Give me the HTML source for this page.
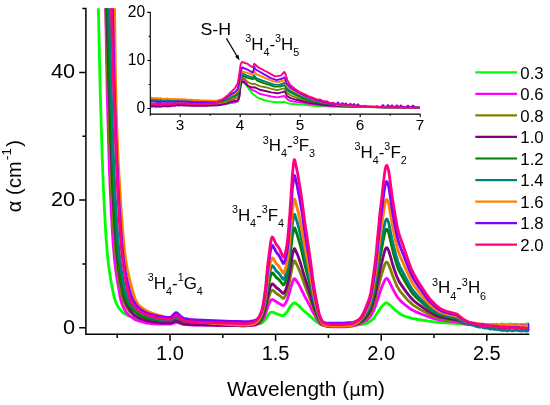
<!DOCTYPE html>
<html lang="en"><head><meta charset="utf-8"><title>Absorption spectra</title>
<style>html,body{margin:0;padding:0;background:#fff}svg{display:block}</style></head>
<body>
<svg width="550" height="405" viewBox="0 0 550 405" font-family="'Liberation Sans', sans-serif" fill="#000">
<rect width="550" height="405" fill="#fff"/>
<defs><clipPath id="cm"><rect x="86" y="8.2" width="445" height="326"/></clipPath><clipPath id="ci"><rect x="150.3" y="11" width="271" height="103"/></clipPath></defs>
<g clip-path="url(#cm)" fill="none" stroke-width="2.8" stroke-linejoin="round" stroke-linecap="butt">
<path d="M97.9,-12.0 L98.1,-4.0 L98.2,2.0 L98.4,8.2 L98.5,14.6 L98.7,21.2 L98.8,27.9 L99.0,34.8 L99.1,41.8 L99.3,48.8 L99.4,55.8 L99.6,62.7 L99.7,69.5 L99.9,76.1 L100.0,82.5 L100.2,88.7 L100.4,96.4 L100.6,103.5 L100.8,110.4 L101.0,117.2 L101.2,123.9 L101.4,130.5 L101.6,136.9 L101.8,143.2 L102.0,149.3 L102.2,156.7 L102.5,163.9 L102.7,170.7 L103.0,177.2 L103.2,183.5 L103.5,190.5 L103.8,197.0 L104.2,203.9 L104.5,210.6 L104.9,217.0 L105.2,223.2 L105.6,229.9 L106.0,236.2 L106.5,242.7 L107.0,249.3 L107.5,255.6 L108.2,261.8 L108.9,267.8 L109.8,273.8 L110.8,279.9 L111.9,285.9 L113.0,291.7 L114.2,297.6 L116.3,303.3 L119.2,308.6 L123.2,313.1 L128.6,315.9 L134.5,317.2 L140.5,318.4 L146.5,319.1 L152.5,319.7 L158.5,320.3 L164.5,320.6 L170.5,320.7 L176.2,320.0 L182.2,321.2 L188.2,321.9 L194.2,322.2 L200.2,322.4 L206.2,322.6 L212.2,322.9 L218.2,323.2 L224.2,323.5 L230.2,323.8 L236.2,324.2 L242.2,324.5 L248.2,324.7 L254.2,324.8 L260.2,323.7 L262.8,322.3 L264.8,320.5 L268.0,315.1 L269.8,313.1 L270.5,312.6 L271.8,312.2 L273.2,312.4 L279.0,314.6 L282.2,315.6 L283.2,315.6 L284.0,315.3 L287.2,311.7 L290.2,306.5 L292.8,303.7 L293.8,303.0 L294.2,302.8 L295.0,302.9 L299.0,305.9 L303.2,310.2 L308.0,314.3 L312.5,318.4 L317.2,322.4 L320.5,324.7 L322.0,325.1 L328.0,325.7 L334.0,325.8 L340.0,325.8 L346.0,325.6 L352.0,325.4 L358.0,324.9 L364.0,324.2 L366.8,323.5 L372.0,320.0 L374.8,316.8 L378.2,311.7 L381.8,306.4 L384.8,303.5 L385.8,303.0 L386.5,302.8 L387.2,303.0 L391.2,306.1 L395.5,310.4 L400.5,314.2 L406.0,316.7 L412.0,318.4 L418.0,319.5 L424.0,320.4 L430.0,321.3 L436.0,322.1 L442.0,322.7 L448.0,323.1 L454.0,323.4 L460.0,323.9 L466.6,324.4 L469.0,324.6 L469.8,324.4 L471.4,324.5 L472.2,324.6 L473.0,324.5 L474.6,324.6 L475.4,324.5 L477.8,324.7 L478.6,324.8 L480.2,324.9 L481.0,324.6 L481.8,324.5 L483.4,324.6 L485.0,324.4 L485.8,324.5 L487.4,324.8 L488.2,324.9 L489.8,324.9 L490.6,324.6 L491.4,324.6 L492.2,324.6 L493.0,324.4 L493.8,324.5 L494.6,324.9 L495.4,324.9 L496.2,325.1 L497.0,324.2 L497.8,324.6 L498.6,324.6 L499.4,325.2 L500.2,325.0 L501.8,323.9 L502.6,324.2 L503.4,324.3 L504.2,324.6 L505.0,324.5 L506.6,324.8 L507.4,324.7 L508.2,324.4 L509.0,324.5 L509.8,324.0 L510.6,324.5 L511.4,324.1 L512.2,324.6 L513.0,324.3 L515.4,324.4 L516.2,324.3 L517.0,324.4 L517.8,324.4 L518.6,324.8 L519.4,324.6 L520.2,324.6 L521.0,324.4 L521.8,324.6 L522.6,324.6 L523.4,324.5 L524.2,324.6 L525.0,324.5 L525.8,324.4 L526.6,324.2 L527.4,324.2 L528.2,323.9 L529.0,323.8" stroke="#00ff00"/>
<path d="M105.3,-12.0 L105.4,-4.5 L105.6,3.1 L105.7,10.8 L105.9,19.0 L106.0,27.4 L106.2,36.1 L106.3,44.9 L106.5,53.7 L106.6,62.4 L106.8,70.8 L106.9,78.9 L107.1,86.5 L107.2,93.6 L107.4,100.0 L107.6,107.9 L107.8,115.5 L108.0,123.0 L108.2,130.1 L108.4,137.1 L108.6,143.8 L108.8,150.3 L109.0,156.5 L109.2,162.5 L109.4,169.7 L109.7,176.5 L109.9,182.9 L110.2,189.0 L110.5,195.8 L110.8,202.0 L111.1,208.0 L111.4,214.8 L111.8,221.2 L112.1,227.3 L112.5,233.8 L112.9,239.9 L113.4,246.2 L113.9,252.5 L114.4,258.5 L115.1,264.5 L115.8,270.5 L116.7,276.8 L117.7,282.9 L118.8,289.0 L119.8,295.1 L121.0,301.0 L123.0,306.7 L126.0,312.0 L130.1,316.4 L135.2,319.6 L141.0,321.6 L147.0,323.2 L153.0,323.8 L159.0,324.1 L165.0,324.2 L171.0,324.0 L175.5,322.6 L177.8,322.7 L183.5,324.4 L189.5,324.9 L195.5,325.0 L201.5,325.1 L207.5,325.2 L213.5,325.3 L219.5,325.4 L225.5,325.5 L231.5,325.6 L237.5,325.7 L243.5,325.8 L249.5,325.7 L255.5,325.0 L258.8,323.5 L261.0,321.8 L262.5,320.1 L264.5,316.6 L266.2,311.8 L268.2,305.5 L270.2,301.2 L271.2,300.0 L271.8,299.6 L272.2,299.5 L273.0,299.7 L278.2,302.9 L282.5,305.5 L283.2,305.7 L283.8,305.5 L284.2,305.1 L286.0,302.5 L287.5,299.2 L289.2,293.5 L291.0,287.0 L292.5,281.8 L293.5,279.5 L294.0,278.8 L294.2,278.6 L294.5,278.6 L295.0,278.9 L298.5,283.9 L301.5,289.6 L304.2,295.4 L307.2,300.9 L310.2,306.6 L313.0,312.3 L316.2,317.9 L319.8,323.0 L321.5,324.7 L327.2,326.6 L333.2,326.9 L339.2,326.9 L345.2,326.8 L351.2,326.4 L357.2,324.8 L363.0,322.5 L367.0,320.0 L370.0,317.0 L372.2,313.4 L374.8,307.7 L376.8,302.0 L378.8,295.8 L380.8,289.8 L383.0,284.0 L385.0,279.8 L385.8,278.9 L386.2,278.6 L386.8,278.5 L387.2,278.7 L388.2,279.7 L391.2,285.6 L394.0,291.2 L397.2,296.8 L400.8,301.1 L405.5,305.2 L410.5,309.0 L416.0,311.9 L421.8,314.2 L427.5,316.4 L433.2,318.4 L439.2,319.9 L445.2,320.8 L451.2,321.4 L457.2,322.0 L463.2,323.4 L465.8,323.9 L469.8,324.3 L471.4,324.4 L473.0,324.7 L473.8,324.7 L474.6,324.5 L475.4,324.4 L476.2,324.5 L477.0,324.9 L477.8,325.1 L478.6,325.0 L479.4,325.2 L481.8,324.9 L482.6,325.0 L483.4,325.3 L484.2,324.9 L485.0,324.9 L485.8,324.9 L488.2,325.6 L489.0,325.9 L489.8,326.1 L490.6,325.8 L491.4,325.9 L492.2,325.7 L493.0,326.0 L494.6,325.3 L495.4,324.8 L497.0,325.1 L497.8,325.5 L498.6,325.7 L499.4,325.5 L500.2,325.2 L501.0,325.1 L502.6,325.8 L503.4,325.6 L504.2,325.3 L505.8,325.3 L506.6,325.7 L507.4,325.9 L509.0,325.9 L509.8,325.8 L511.4,326.2 L512.2,326.3 L513.0,326.3 L515.4,325.9 L516.2,325.8 L517.8,326.4 L518.6,326.7 L519.4,326.3 L520.2,326.1 L521.0,325.4 L521.8,325.5 L522.6,325.2 L523.4,325.7 L524.2,325.9 L525.0,326.1 L525.8,325.9 L526.6,325.9 L527.4,326.4 L528.2,326.5 L529.0,326.4" stroke="#ff00ff"/>
<path d="M105.4,-12.0 L105.5,-5.1 L105.7,1.7 L105.8,8.2 L106.0,14.4 L106.1,20.5 L106.3,26.5 L106.5,34.4 L106.7,42.1 L106.9,49.7 L107.1,57.2 L107.3,64.5 L107.5,71.6 L107.7,78.6 L107.9,85.4 L108.1,92.0 L108.3,98.4 L108.5,104.7 L108.7,111.0 L108.9,117.2 L109.1,123.4 L109.3,129.6 L109.5,135.6 L109.7,143.1 L110.0,150.3 L110.2,157.4 L110.5,164.3 L110.7,170.9 L111.0,177.2 L111.2,183.2 L111.5,190.0 L111.8,196.2 L112.2,202.7 L112.5,208.9 L112.9,215.7 L113.3,222.2 L113.7,228.2 L114.2,234.7 L114.6,240.7 L115.1,246.9 L115.7,253.1 L116.3,259.1 L117.0,265.3 L117.7,271.3 L118.6,277.5 L119.5,283.6 L120.6,289.7 L121.9,295.7 L123.7,301.5 L126.3,306.9 L129.9,311.8 L134.8,315.3 L140.5,317.7 L146.5,319.2 L152.5,320.2 L158.5,320.9 L164.5,321.3 L170.5,321.2 L175.5,319.3 L177.0,319.3 L182.8,321.7 L188.8,322.5 L194.8,322.8 L200.8,323.0 L206.8,323.3 L212.8,323.5 L218.8,323.8 L224.8,324.1 L230.8,324.3 L236.8,324.6 L242.8,324.8 L248.8,324.7 L254.8,324.1 L257.5,323.2 L260.0,321.4 L261.5,319.7 L262.8,317.6 L264.5,313.5 L266.2,307.2 L267.8,300.6 L269.8,294.1 L270.5,292.2 L271.5,290.7 L272.0,290.2 L272.2,290.2 L272.8,290.3 L274.5,291.7 L276.5,293.5 L279.5,295.5 L282.5,298.0 L283.0,298.3 L283.5,298.4 L283.8,298.3 L284.2,297.8 L286.0,294.6 L287.2,291.2 L288.5,286.3 L289.8,280.0 L291.0,273.4 L292.2,266.7 L293.2,263.0 L293.8,261.6 L294.0,261.2 L294.2,260.9 L294.5,260.9 L294.8,261.0 L295.2,261.6 L298.0,267.1 L300.5,273.1 L302.8,279.5 L304.8,285.3 L307.0,291.0 L309.2,296.8 L311.5,303.0 L313.5,308.9 L316.0,314.6 L318.8,320.3 L320.5,322.8 L322.2,324.3 L328.0,325.9 L334.0,326.0 L340.0,326.0 L346.0,325.9 L352.0,325.4 L358.0,323.8 L363.2,321.1 L367.8,317.0 L370.2,313.5 L372.2,309.0 L374.2,303.2 L376.0,297.2 L377.5,290.8 L379.0,284.6 L380.5,278.7 L382.2,272.5 L384.2,266.0 L385.0,264.0 L385.8,262.8 L386.2,262.3 L386.5,262.2 L386.8,262.1 L387.0,262.2 L387.5,262.7 L388.2,263.7 L390.5,269.5 L392.5,275.3 L394.8,281.0 L397.2,286.6 L400.0,291.2 L404.0,295.9 L408.2,300.6 L412.8,304.8 L418.0,308.2 L423.2,311.1 L428.8,314.1 L434.5,316.6 L440.2,318.4 L446.2,319.5 L452.2,320.2 L457.8,321.1 L463.5,323.0 L469.0,324.1 L472.2,324.4 L473.8,324.8 L477.0,325.3 L477.8,325.3 L478.6,325.1 L479.4,325.4 L480.2,325.0 L481.0,325.2 L481.8,325.1 L482.6,325.6 L483.4,325.7 L484.2,325.5 L485.8,325.3 L486.6,325.9 L488.2,326.4 L489.0,326.2 L489.8,326.1 L490.6,325.9 L491.4,326.2 L492.2,326.1 L493.0,326.3 L493.8,326.2 L494.6,326.0 L495.4,326.0 L496.2,325.8 L497.0,326.3 L497.8,326.7 L498.6,326.7 L499.4,326.1 L500.2,326.0 L501.8,326.4 L502.6,326.8 L504.2,326.8 L505.0,326.4 L505.8,326.5 L506.6,327.0 L507.4,327.1 L508.2,326.9 L509.0,326.5 L509.8,326.8 L510.6,326.7 L511.4,326.8 L512.2,326.7 L513.0,327.1 L513.8,327.1 L514.6,326.7 L515.4,326.7 L517.8,327.2 L518.6,327.2 L519.4,327.4 L520.2,327.2 L521.0,327.4 L521.8,327.1 L522.6,327.4 L523.4,327.5 L524.2,327.7 L525.0,327.2 L525.8,327.0 L526.6,326.3 L527.4,326.5 L528.2,326.5 L529.0,327.0" stroke="#808000"/>
<path d="M106.4,-12.0 L106.5,-5.0 L106.7,1.8 L106.8,8.2 L107.0,16.1 L107.2,23.8 L107.4,31.2 L107.6,38.5 L107.8,45.5 L108.0,52.4 L108.2,59.2 L108.4,65.8 L108.6,72.2 L108.8,78.6 L109.0,84.8 L109.2,91.0 L109.4,97.0 L109.7,104.5 L109.9,112.0 L110.2,119.4 L110.4,126.8 L110.7,134.2 L110.9,141.4 L111.2,148.5 L111.4,155.4 L111.7,162.2 L111.9,168.7 L112.2,175.0 L112.4,181.0 L112.7,187.8 L113.0,194.2 L113.4,200.9 L113.7,207.3 L114.1,213.4 L114.5,220.1 L114.9,226.6 L115.3,232.7 L115.7,239.1 L116.2,245.6 L116.8,252.1 L117.4,258.2 L118.1,264.2 L118.9,270.2 L119.8,276.2 L120.8,282.2 L122.0,288.2 L123.2,294.1 L124.8,299.9 L127.1,305.5 L130.3,310.6 L134.2,315.2 L139.3,318.4 L145.2,320.4 L151.2,321.6 L157.2,322.5 L163.2,323.0 L169.2,323.2 L171.8,322.8 L175.2,321.1 L176.2,321.0 L178.2,321.6 L183.2,323.9 L189.2,324.6 L195.2,324.8 L201.2,324.9 L207.2,325.0 L213.2,325.2 L219.2,325.3 L225.2,325.4 L231.2,325.6 L237.2,325.7 L243.2,325.8 L249.2,325.7 L255.0,324.5 L257.8,323.1 L260.0,320.9 L261.5,318.9 L262.8,316.4 L264.5,311.3 L266.0,305.2 L267.2,298.7 L268.8,292.2 L270.2,287.0 L270.8,285.7 L271.5,284.4 L272.0,283.9 L272.2,283.8 L272.8,283.9 L274.2,285.3 L276.2,287.5 L279.2,289.7 L282.5,292.9 L283.0,293.3 L283.5,293.4 L283.8,293.3 L284.2,292.8 L286.0,289.2 L287.2,285.2 L288.5,279.5 L289.8,272.1 L290.8,265.7 L291.8,259.1 L292.5,254.5 L293.5,250.4 L294.0,249.1 L294.2,248.7 L294.5,248.7 L294.8,248.8 L295.2,249.6 L297.8,255.4 L300.0,261.7 L302.0,268.1 L303.8,274.3 L305.8,280.7 L307.8,286.7 L309.8,293.0 L311.5,298.8 L313.2,305.1 L315.5,311.3 L317.8,317.0 L319.8,321.1 L321.2,323.2 L322.8,324.5 L328.0,326.0 L334.0,326.1 L340.0,326.1 L346.0,326.0 L352.0,325.4 L357.8,323.5 L363.0,320.2 L367.2,315.5 L369.8,311.6 L371.0,308.9 L373.0,302.7 L374.8,296.2 L376.2,289.7 L377.5,283.1 L378.8,276.6 L380.0,270.4 L381.5,263.9 L383.0,257.5 L384.5,251.6 L385.0,250.0 L385.8,248.5 L386.2,247.9 L386.5,247.8 L386.8,247.7 L387.0,247.8 L387.5,248.3 L388.2,249.6 L389.0,251.6 L390.8,257.7 L392.5,264.0 L394.5,270.1 L396.5,275.8 L399.0,281.4 L402.5,286.6 L406.0,291.6 L409.8,296.5 L414.0,301.0 L418.8,304.7 L423.8,308.2 L428.8,311.6 L434.2,314.6 L440.0,316.9 L446.0,318.2 L452.0,319.1 L457.5,320.0 L463.0,322.4 L466.6,323.5 L468.2,324.0 L469.0,324.0 L469.8,324.2 L470.6,324.2 L471.4,324.4 L472.2,324.5 L473.0,324.8 L473.8,324.9 L476.2,325.5 L477.0,325.6 L478.6,325.3 L479.4,325.4 L481.0,325.8 L481.8,325.8 L482.6,325.9 L483.4,326.2 L484.2,326.2 L485.0,325.9 L485.8,325.5 L486.6,325.6 L488.2,326.0 L489.0,326.3 L489.8,326.8 L490.6,327.0 L491.4,327.0 L492.2,326.7 L493.0,327.0 L493.8,327.0 L496.2,327.3 L497.8,327.3 L498.6,327.1 L500.2,327.3 L501.0,327.5 L501.8,327.3 L502.6,327.3 L503.4,327.0 L504.2,327.4 L505.8,327.4 L506.6,327.1 L507.4,327.2 L508.2,327.5 L509.0,327.4 L509.8,327.4 L510.6,327.3 L511.4,327.5 L512.2,327.3 L513.0,327.4 L513.8,327.6 L514.6,327.6 L515.4,328.2 L516.2,328.4 L517.0,328.4 L517.8,328.0 L518.6,327.9 L519.4,327.9 L520.2,327.8 L521.0,327.9 L521.8,327.7 L522.6,327.7 L523.4,327.6 L525.0,328.2 L525.8,327.7 L526.6,327.7 L527.4,327.6 L528.2,328.1 L529.0,327.9" stroke="#800080"/>
<path d="M107.0,-12.0 L107.1,-5.0 L107.3,1.8 L107.4,8.2 L107.6,16.1 L107.8,23.8 L108.0,31.2 L108.2,38.5 L108.4,45.5 L108.6,52.4 L108.8,59.2 L109.0,65.8 L109.2,72.2 L109.4,78.6 L109.6,84.8 L109.8,91.0 L110.0,97.0 L110.3,104.5 L110.5,112.0 L110.8,119.4 L111.0,126.8 L111.3,134.2 L111.5,141.4 L111.8,148.5 L112.0,155.4 L112.3,162.2 L112.5,168.7 L112.8,175.0 L113.0,181.0 L113.3,187.8 L113.6,194.2 L114.0,200.9 L114.3,207.3 L114.7,213.4 L115.1,220.1 L115.5,226.6 L115.9,232.7 L116.3,239.1 L116.8,245.6 L117.4,252.1 L118.0,258.2 L118.7,264.2 L119.5,270.3 L120.4,276.5 L121.4,282.4 L122.6,288.5 L124.0,294.4 L125.9,300.1 L129.0,305.3 L132.9,309.9 L137.5,313.8 L142.8,316.8 L148.8,318.5 L154.8,319.7 L160.8,320.5 L166.8,320.8 L170.5,320.6 L172.2,319.9 L175.0,318.1 L175.8,317.8 L177.0,317.9 L182.2,320.9 L188.2,322.1 L194.2,322.4 L200.2,322.6 L206.2,322.9 L212.2,323.1 L218.2,323.3 L224.2,323.7 L230.2,324.0 L236.2,324.3 L242.2,324.5 L248.2,324.4 L254.2,323.5 L257.2,322.1 L259.0,320.6 L260.8,318.3 L262.0,315.9 L263.5,311.5 L265.0,305.4 L266.2,298.5 L267.2,291.9 L268.5,284.9 L270.0,278.1 L270.5,276.1 L271.5,273.7 L272.0,272.9 L272.2,272.8 L272.5,272.8 L273.0,273.2 L274.5,275.0 L276.2,277.4 L279.0,279.7 L282.8,284.5 L283.2,284.8 L283.5,284.8 L283.8,284.8 L284.0,284.6 L284.5,283.8 L286.0,280.0 L287.0,276.1 L288.0,271.0 L289.0,264.3 L290.0,256.5 L290.8,250.2 L291.5,243.8 L292.2,237.3 L292.8,233.9 L293.8,229.1 L294.0,228.3 L294.2,227.8 L294.5,227.8 L294.8,228.0 L295.2,228.9 L297.2,234.8 L299.2,241.4 L301.0,248.1 L302.5,254.5 L304.0,261.3 L305.5,267.5 L307.2,274.2 L308.8,280.1 L310.2,286.3 L311.8,292.8 L313.2,299.6 L315.0,305.9 L317.0,312.3 L318.5,317.0 L320.2,320.7 L322.0,323.0 L323.0,323.9 L326.8,325.0 L332.8,325.3 L338.8,325.3 L344.8,325.2 L350.8,324.8 L356.8,323.2 L360.0,321.4 L363.0,318.8 L366.8,313.6 L369.2,309.3 L370.5,306.4 L372.2,300.3 L373.8,293.9 L375.2,286.8 L376.5,279.8 L377.5,273.1 L378.5,266.7 L379.5,260.4 L380.8,253.4 L382.0,246.9 L383.2,240.3 L384.5,234.1 L385.0,232.0 L385.8,230.2 L386.2,229.4 L386.5,229.2 L386.8,229.2 L387.0,229.3 L387.5,229.9 L388.2,231.4 L388.8,233.0 L390.2,239.3 L391.8,246.2 L393.2,252.3 L395.0,258.6 L396.8,264.7 L399.0,270.7 L402.0,276.2 L405.2,281.8 L408.5,287.3 L412.0,292.7 L416.2,297.4 L420.8,301.5 L425.2,305.5 L430.0,309.4 L435.2,312.7 L440.8,315.2 L446.8,316.8 L452.8,317.8 L457.2,318.6 L462.8,321.5 L465.8,322.6 L468.2,323.4 L471.4,324.2 L473.0,324.3 L474.6,324.7 L476.2,324.7 L477.0,324.8 L477.8,325.1 L479.4,325.3 L480.2,325.3 L482.6,326.2 L484.2,326.0 L485.0,325.6 L485.8,325.9 L486.6,325.7 L487.4,326.0 L488.2,325.7 L489.0,325.7 L489.8,326.0 L490.6,326.1 L492.2,326.6 L493.0,326.8 L493.8,326.7 L495.4,326.4 L496.2,326.7 L497.0,326.6 L500.2,327.3 L501.8,326.9 L502.6,326.9 L503.4,327.0 L504.2,327.4 L505.0,327.5 L505.8,327.2 L506.6,327.2 L507.4,327.0 L508.2,327.2 L509.0,327.0 L509.8,327.0 L511.4,327.2 L513.8,327.9 L514.6,327.8 L516.2,327.5 L517.0,327.4 L517.8,327.1 L518.6,327.2 L519.4,327.6 L520.2,327.7 L521.0,327.8 L521.8,327.5 L522.6,327.6 L524.2,327.6 L525.0,327.7 L525.8,327.7 L526.6,327.9 L527.4,327.8 L529.0,327.8" stroke="#008000"/>
<path d="M108.8,-12.0 L108.9,-5.1 L109.1,1.7 L109.2,8.2 L109.4,14.5 L109.5,20.8 L109.7,27.0 L109.8,33.2 L110.0,39.3 L110.1,45.4 L110.3,53.3 L110.5,61.1 L110.7,68.7 L110.9,76.1 L111.1,83.3 L111.3,90.2 L111.5,96.8 L111.7,103.2 L111.9,109.4 L112.1,115.6 L112.3,121.8 L112.5,127.9 L112.8,135.3 L113.0,142.6 L113.3,149.7 L113.5,156.6 L113.8,163.3 L114.0,169.7 L114.3,175.8 L114.6,182.8 L114.9,189.3 L115.2,195.4 L115.5,201.8 L115.9,207.8 L116.3,214.4 L116.7,220.8 L117.1,226.8 L117.5,233.1 L118.0,239.7 L118.5,245.7 L119.1,251.7 L119.7,257.9 L120.5,263.9 L121.3,270.0 L122.3,276.0 L123.4,282.1 L124.6,288.1 L126.1,293.9 L128.0,299.6 L131.3,304.7 L135.6,308.9 L140.5,312.6 L146.0,315.3 L151.8,317.5 L157.8,319.0 L163.8,319.9 L169.8,320.2 L171.5,319.8 L175.0,317.4 L175.8,317.1 L176.8,317.2 L182.0,320.3 L188.0,321.6 L194.0,322.0 L200.0,322.3 L206.0,322.6 L212.0,322.9 L218.0,323.2 L224.0,323.5 L230.0,323.9 L236.0,324.2 L242.0,324.5 L248.0,324.4 L254.0,323.4 L257.0,321.9 L258.8,320.3 L260.8,317.3 L262.0,314.7 L263.2,310.7 L264.8,304.1 L266.0,296.6 L267.0,289.3 L268.0,282.5 L269.2,275.7 L270.5,269.6 L271.5,266.8 L272.0,265.9 L272.2,265.7 L272.5,265.8 L273.0,266.2 L274.5,268.2 L276.2,270.9 L279.0,273.5 L282.5,278.6 L283.0,279.1 L283.2,279.3 L283.5,279.3 L283.8,279.3 L284.0,279.1 L284.5,278.2 L286.0,274.0 L287.0,269.7 L288.0,264.0 L289.0,256.3 L289.8,249.8 L290.5,242.6 L291.2,235.4 L292.0,227.7 L292.8,221.3 L293.8,215.8 L294.0,214.9 L294.2,214.4 L294.5,214.3 L294.8,214.6 L295.2,215.7 L297.0,221.5 L298.8,227.8 L300.2,234.0 L301.8,240.8 L303.0,247.2 L304.2,253.7 L305.8,260.6 L307.2,267.1 L308.8,273.9 L310.2,280.9 L311.5,287.1 L312.8,293.7 L314.2,300.4 L316.0,306.9 L317.8,313.4 L319.5,318.3 L320.8,320.8 L322.5,323.1 L323.2,323.7 L326.8,324.7 L332.8,324.9 L338.8,324.9 L344.8,324.9 L350.8,324.4 L356.0,323.1 L359.2,321.5 L362.5,318.6 L366.0,313.5 L369.0,308.1 L370.5,304.4 L372.2,297.6 L373.8,290.6 L375.0,284.2 L376.2,276.8 L377.2,269.5 L378.2,262.3 L379.2,255.3 L380.2,248.8 L381.5,241.7 L382.8,234.3 L384.0,227.3 L385.0,222.2 L385.8,220.2 L386.2,219.3 L386.5,219.1 L386.8,219.0 L387.0,219.1 L387.5,219.8 L388.2,221.5 L388.8,223.2 L390.2,230.2 L391.5,236.6 L393.0,243.5 L394.5,249.6 L396.0,255.5 L397.8,261.4 L399.8,266.6 L402.8,272.2 L405.8,278.0 L408.8,283.6 L412.0,289.1 L415.8,293.8 L420.0,298.2 L424.5,302.7 L429.0,306.9 L434.0,310.6 L439.2,313.6 L445.0,315.6 L451.0,316.7 L457.0,318.0 L462.2,321.3 L465.0,322.7 L469.8,324.5 L471.4,325.0 L472.2,325.0 L473.0,325.2 L473.8,325.3 L476.2,326.4 L477.0,326.7 L477.8,326.7 L478.6,327.0 L479.4,326.9 L480.2,327.1 L481.0,326.8 L482.6,327.2 L483.4,327.7 L485.0,328.1 L485.8,328.1 L486.6,328.2 L487.4,328.1 L488.2,328.3 L489.8,329.0 L490.6,329.0 L492.2,328.7 L494.6,329.5 L495.4,329.3 L496.2,329.4 L497.0,329.3 L498.6,329.5 L499.4,329.7 L500.2,330.1 L501.8,330.3 L504.2,330.3 L505.0,330.1 L506.6,330.5 L507.4,330.9 L509.0,330.2 L509.8,330.1 L510.6,330.5 L512.2,330.9 L513.0,330.6 L513.8,330.7 L514.6,330.2 L515.4,330.2 L516.2,329.9 L517.0,330.4 L517.8,330.5 L518.6,330.7 L520.2,330.8 L521.0,331.0 L521.8,330.7 L522.6,331.0 L523.4,330.7 L524.2,330.7 L525.0,330.5 L525.8,331.0 L526.6,330.9 L527.4,331.0 L528.2,331.0 L529.0,331.3" stroke="#008080"/>
<path d="M114.2,-12.0 L114.3,-3.4 L114.5,5.3 L114.6,14.3 L114.7,20.7 L114.8,27.4 L114.9,34.2 L115.0,41.2 L115.1,48.2 L115.2,55.1 L115.3,61.9 L115.4,68.6 L115.5,74.9 L115.6,80.9 L115.8,89.1 L115.9,96.1 L116.1,103.5 L116.3,110.2 L116.5,116.6 L116.7,122.8 L117.0,130.0 L117.2,136.8 L117.5,143.2 L117.7,149.2 L118.0,156.0 L118.3,162.4 L118.7,169.3 L119.0,175.7 L119.4,181.8 L119.8,188.3 L120.2,194.6 L120.6,200.8 L121.0,207.5 L121.5,214.0 L121.9,220.2 L122.4,226.8 L122.9,233.0 L123.5,239.4 L124.1,245.8 L124.7,251.9 L125.5,257.9 L126.4,264.1 L127.5,270.1 L128.8,276.0 L130.2,281.9 L131.8,287.8 L133.4,293.7 L135.3,299.5 L138.4,304.7 L143.0,308.6 L148.5,311.7 L154.2,313.8 L160.2,315.5 L166.2,317.2 L169.8,317.7 L171.2,317.4 L173.0,316.4 L175.0,314.9 L175.8,314.6 L176.8,314.8 L178.5,315.8 L182.2,318.7 L188.2,320.4 L194.2,321.2 L200.2,322.0 L206.2,322.7 L212.2,323.3 L218.2,323.7 L224.2,324.2 L230.2,324.6 L236.2,324.9 L242.2,325.2 L248.2,325.1 L253.0,324.1 L255.8,322.7 L257.8,321.1 L259.2,319.2 L261.0,315.9 L262.2,312.6 L263.8,306.5 L265.0,299.7 L266.0,292.8 L266.8,286.8 L267.5,280.5 L268.5,273.7 L269.5,267.7 L270.5,262.2 L271.5,259.0 L272.0,257.9 L272.2,257.8 L272.5,257.8 L273.0,258.2 L274.5,260.6 L276.2,263.5 L278.8,266.1 L282.0,271.4 L282.8,272.6 L283.2,273.1 L283.5,273.1 L283.8,273.1 L284.0,272.9 L284.5,272.0 L286.0,267.3 L287.0,262.4 L288.0,256.0 L288.8,249.6 L289.5,242.5 L290.2,234.5 L291.0,226.2 L291.8,217.4 L292.5,209.3 L293.5,202.2 L294.0,199.8 L294.2,199.2 L294.5,199.1 L294.8,199.4 L295.2,200.7 L297.0,207.3 L298.5,213.4 L300.0,220.3 L301.2,226.5 L302.5,233.5 L303.5,239.5 L304.8,246.6 L306.0,252.9 L307.2,259.1 L308.5,265.6 L309.8,272.2 L311.0,279.0 L312.2,286.4 L313.5,293.5 L315.0,300.3 L316.5,306.4 L318.0,312.7 L319.8,318.2 L321.0,321.0 L322.5,323.4 L323.2,324.2 L326.5,325.7 L332.5,326.2 L338.5,326.2 L344.5,326.1 L350.5,325.6 L354.5,324.2 L358.8,321.5 L362.8,316.9 L365.8,311.6 L368.5,306.0 L370.2,301.3 L371.5,296.3 L372.8,289.8 L374.0,282.8 L375.0,276.7 L376.0,269.9 L376.8,263.8 L377.5,257.2 L378.2,250.8 L379.0,244.5 L379.8,238.6 L380.8,231.5 L381.8,224.8 L382.8,217.7 L383.8,211.0 L384.8,204.5 L385.2,202.3 L386.0,200.3 L386.2,199.9 L386.5,199.6 L386.8,199.5 L387.0,199.6 L387.2,199.9 L388.2,202.4 L388.8,204.4 L390.0,211.3 L391.2,218.8 L392.5,225.9 L393.8,232.1 L395.2,239.1 L396.8,245.9 L398.5,252.1 L400.8,257.9 L403.5,263.9 L406.0,269.6 L408.5,275.2 L411.2,280.9 L414.5,286.2 L418.2,291.1 L422.2,295.9 L426.2,300.6 L430.5,305.1 L435.2,308.9 L440.5,312.2 L446.2,314.2 L452.2,315.4 L457.2,316.4 L462.5,319.8 L465.0,320.9 L468.2,322.0 L471.4,322.7 L473.8,322.9 L474.6,323.0 L476.2,323.6 L477.0,323.7 L477.8,323.6 L478.6,323.6 L479.4,323.8 L480.2,324.3 L481.0,324.2 L481.8,324.0 L482.6,324.1 L483.4,324.2 L484.2,324.7 L485.0,324.8 L485.8,325.0 L486.6,324.8 L487.4,324.5 L489.0,324.4 L489.8,324.8 L490.6,324.7 L491.4,324.9 L492.2,324.7 L493.8,324.9 L494.6,325.3 L495.4,325.1 L496.2,325.0 L497.0,324.8 L497.8,325.1 L499.4,325.1 L500.2,325.0 L501.0,325.1 L501.8,325.4 L502.6,325.2 L503.4,325.4 L504.2,325.0 L505.0,325.2 L505.8,324.8 L506.6,325.2 L507.4,325.3 L508.2,325.6 L509.0,325.2 L510.6,325.3 L511.4,325.7 L513.0,325.5 L514.6,326.2 L515.4,326.4 L516.2,326.0 L517.0,325.9 L517.8,325.6 L518.6,325.7 L519.4,325.6 L520.2,325.6 L521.0,325.9 L521.8,325.9 L522.6,326.1 L523.4,325.9 L524.2,326.0 L525.8,326.1 L526.6,326.5 L527.4,326.8 L528.2,326.9 L529.0,326.6" stroke="#ff8000"/>
<path d="M112.1,-12.0 L112.2,-5.2 L112.4,1.5 L112.5,8.2 L112.7,15.0 L112.8,21.9 L113.0,29.0 L113.1,36.1 L113.3,43.2 L113.4,50.4 L113.6,57.4 L113.7,64.3 L113.9,71.0 L114.0,77.5 L114.2,83.7 L114.4,91.4 L114.6,98.4 L114.8,104.7 L115.0,110.9 L115.2,116.9 L115.4,124.2 L115.7,131.2 L115.9,137.9 L116.2,144.5 L116.4,150.8 L116.7,156.8 L117.0,163.8 L117.3,170.4 L117.6,176.8 L117.9,182.8 L118.2,189.5 L118.6,195.8 L119.0,202.5 L119.4,209.0 L119.8,215.2 L120.2,221.3 L120.6,227.7 L121.1,233.9 L121.6,240.2 L122.1,246.6 L122.7,252.8 L123.4,258.9 L124.3,264.9 L125.2,270.8 L126.3,276.8 L127.6,282.9 L129.1,288.7 L130.7,294.6 L132.9,300.2 L136.2,305.3 L140.5,309.5 L145.8,312.6 L151.5,314.7 L157.5,316.2 L163.5,317.2 L169.2,317.5 L170.8,317.1 L172.0,316.3 L175.0,313.1 L175.8,312.7 L176.2,312.6 L177.2,313.0 L181.8,317.3 L183.8,318.5 L189.8,319.5 L195.8,319.8 L201.8,320.1 L207.8,320.3 L213.8,320.6 L219.8,320.8 L225.8,321.1 L231.8,321.3 L237.8,321.5 L243.8,321.7 L249.8,321.5 L254.5,320.6 L257.2,319.1 L258.8,317.6 L260.5,314.6 L261.8,311.5 L262.8,307.9 L264.0,301.5 L265.0,295.0 L265.8,289.0 L266.5,282.4 L267.2,274.8 L268.0,268.2 L269.0,260.8 L270.0,253.8 L270.5,250.7 L271.5,246.8 L272.0,245.6 L272.2,245.4 L272.5,245.4 L273.0,245.9 L274.2,248.1 L276.0,251.7 L276.8,252.8 L278.5,254.7 L281.5,260.2 L282.8,262.8 L283.2,263.4 L283.5,263.5 L283.8,263.4 L284.0,263.2 L284.5,262.2 L286.0,256.8 L286.8,252.8 L287.8,245.6 L288.5,238.7 L289.2,230.6 L289.8,224.6 L290.2,218.0 L290.8,211.4 L291.2,204.8 L291.8,197.6 L292.2,190.7 L292.8,185.2 L293.5,179.3 L294.0,176.4 L294.2,175.6 L294.5,175.5 L294.8,175.9 L295.2,177.4 L296.8,184.1 L298.2,191.2 L299.5,197.8 L300.8,204.9 L301.8,211.0 L302.8,217.9 L303.8,225.1 L304.8,231.8 L305.8,237.9 L307.0,245.2 L308.0,251.3 L309.0,257.5 L310.0,263.8 L311.0,270.3 L312.0,277.3 L313.0,284.4 L314.0,290.5 L315.2,296.9 L316.5,302.9 L317.8,309.2 L319.2,314.8 L320.5,318.2 L322.2,321.2 L323.0,322.0 L325.0,322.8 L331.0,323.1 L337.0,323.1 L343.0,323.1 L349.0,322.7 L353.5,322.4 L358.2,320.3 L360.8,318.2 L362.5,316.0 L365.2,310.7 L367.8,305.0 L369.8,299.6 L370.8,295.8 L372.0,289.3 L373.0,283.1 L374.0,276.7 L375.0,269.8 L376.0,262.1 L376.8,255.2 L377.5,247.6 L378.2,240.3 L379.0,233.1 L379.8,226.3 L380.5,220.3 L381.5,212.7 L382.5,204.7 L383.2,198.6 L384.2,191.1 L385.0,185.9 L385.8,183.3 L386.2,182.1 L386.5,181.7 L386.8,181.6 L387.0,181.8 L387.2,182.1 L388.2,184.9 L388.8,187.1 L389.8,193.6 L390.8,200.2 L391.8,207.1 L392.8,213.3 L394.0,220.2 L395.2,226.8 L396.5,233.4 L398.0,239.8 L399.8,245.6 L402.2,251.7 L404.5,257.5 L406.8,263.4 L409.0,269.1 L411.5,275.0 L414.5,280.5 L418.0,285.8 L421.8,291.0 L425.5,296.1 L429.2,300.9 L433.5,305.1 L438.2,309.0 L443.8,311.9 L449.8,313.5 L455.8,314.8 L457.2,315.3 L462.0,319.0 L465.0,320.7 L468.2,322.1 L471.4,323.2 L473.0,323.6 L475.4,323.9 L476.2,324.1 L477.8,324.8 L478.6,324.9 L479.4,324.8 L480.2,324.5 L481.0,324.7 L482.6,324.6 L483.4,324.7 L484.2,325.2 L485.0,325.2 L485.8,325.4 L486.6,325.4 L487.4,325.9 L488.2,326.1 L489.0,326.1 L491.4,326.0 L492.2,326.1 L493.0,325.8 L493.8,326.3 L494.6,326.4 L495.4,326.6 L497.0,326.3 L498.6,326.9 L501.8,327.1 L502.6,327.3 L503.4,327.0 L505.0,327.0 L505.8,327.4 L507.4,327.2 L508.2,327.3 L509.0,327.6 L511.4,327.3 L512.2,327.7 L513.0,327.5 L513.8,327.5 L514.6,327.3 L516.2,327.7 L517.0,327.5 L517.8,327.7 L519.4,327.7 L520.2,328.2 L521.8,328.5 L522.6,328.1 L523.4,327.8 L524.2,328.2 L525.0,328.3 L525.8,328.6 L527.4,328.6 L528.2,328.9 L529.0,328.7" stroke="#8000ff"/>
<path d="M111.0,-12.0 L111.1,-5.0 L111.3,1.8 L111.4,8.2 L111.6,16.1 L111.8,23.8 L112.0,31.3 L112.2,38.7 L112.4,45.8 L112.6,52.8 L112.8,59.6 L113.0,66.2 L113.2,72.7 L113.4,79.0 L113.6,85.2 L113.8,91.2 L114.1,98.6 L114.3,105.7 L114.6,112.8 L114.8,119.8 L115.1,126.7 L115.3,133.5 L115.6,140.2 L115.8,146.8 L116.1,153.2 L116.3,159.4 L116.6,165.4 L116.9,172.4 L117.2,179.2 L117.5,185.6 L117.8,191.6 L118.1,198.2 L118.5,204.4 L118.8,210.4 L119.2,217.1 L119.6,223.5 L120.0,229.7 L120.5,236.2 L120.9,242.3 L121.4,248.5 L122.0,254.5 L122.7,260.8 L123.5,266.9 L124.4,272.9 L125.4,279.0 L126.6,285.1 L128.0,291.1 L129.4,297.0 L131.8,302.6 L135.3,307.5 L139.8,311.5 L145.2,314.2 L151.0,316.4 L157.0,318.0 L163.0,318.9 L169.0,319.4 L170.8,319.2 L172.2,318.4 L175.0,316.0 L175.8,315.7 L176.5,315.8 L177.8,316.3 L182.2,319.9 L185.2,321.1 L191.2,321.7 L197.2,322.1 L203.2,322.4 L209.2,322.6 L215.2,322.8 L221.2,323.0 L227.2,323.2 L233.2,323.4 L239.2,323.6 L245.2,323.8 L251.2,323.1 L254.5,321.8 L257.2,319.6 L258.8,317.6 L260.5,314.0 L261.8,310.4 L262.8,306.3 L264.0,299.1 L265.0,291.9 L265.8,285.3 L266.5,277.9 L267.2,269.6 L268.0,262.3 L268.8,256.1 L269.8,248.4 L270.5,243.0 L271.5,238.6 L271.8,237.8 L272.0,237.3 L272.2,237.0 L272.5,237.1 L272.8,237.3 L274.2,240.0 L276.0,244.0 L276.8,245.2 L278.5,247.2 L279.5,248.9 L282.0,254.6 L282.8,256.2 L283.2,256.8 L283.5,257.0 L283.8,257.0 L284.0,256.7 L284.5,255.6 L286.0,249.8 L286.8,245.4 L287.8,237.5 L288.5,229.9 L289.2,220.9 L289.8,214.2 L290.2,207.0 L290.8,199.6 L291.2,192.2 L291.8,184.2 L292.2,176.5 L292.8,170.5 L293.5,163.8 L294.0,160.6 L294.2,159.7 L294.5,159.6 L294.8,160.0 L295.2,161.7 L296.5,168.0 L297.8,174.2 L299.0,181.2 L300.0,187.3 L301.0,193.7 L302.0,200.7 L303.0,208.4 L304.0,216.3 L305.0,223.6 L306.0,230.2 L307.0,236.7 L308.0,243.4 L309.0,250.3 L310.0,257.3 L311.0,264.5 L312.0,272.3 L313.0,280.1 L314.0,286.8 L315.2,293.9 L316.5,300.5 L317.8,307.5 L319.2,313.9 L320.5,317.8 L322.2,321.5 L323.0,322.6 L325.0,323.8 L331.0,324.6 L337.0,324.6 L343.0,324.6 L349.0,324.2 L353.0,323.5 L358.2,320.3 L360.8,317.5 L363.0,314.0 L365.5,308.3 L367.8,302.6 L369.8,296.6 L370.8,292.5 L372.0,285.1 L373.0,278.3 L374.0,271.2 L375.0,263.6 L375.8,257.3 L376.5,250.0 L377.2,241.7 L378.0,233.4 L378.8,225.4 L379.5,217.7 L380.2,210.7 L381.0,204.3 L381.8,197.9 L382.5,191.2 L383.2,184.4 L384.0,178.1 L384.8,171.9 L385.2,169.0 L386.0,166.5 L386.2,165.9 L386.5,165.5 L386.8,165.4 L387.0,165.5 L387.2,166.0 L388.2,169.0 L388.8,171.5 L389.8,178.7 L390.8,186.1 L391.8,193.8 L392.8,200.6 L393.8,206.8 L395.0,214.2 L396.0,220.1 L397.2,226.7 L398.8,233.1 L400.8,239.3 L403.0,245.3 L405.0,251.1 L407.0,256.9 L409.0,262.6 L411.2,268.6 L414.0,274.5 L417.0,279.7 L420.2,284.8 L423.8,290.2 L427.2,295.4 L431.0,300.3 L435.2,304.6 L440.0,308.4 L445.5,311.0 L451.5,312.7 L457.0,314.0 L461.8,318.1 L465.0,320.2 L467.4,321.5 L468.2,321.8 L472.2,323.0 L473.8,323.6 L474.6,323.7 L475.4,323.8 L476.2,323.8 L477.0,324.2 L477.8,324.3 L479.4,325.0 L480.2,325.0 L481.0,325.4 L482.6,325.8 L483.4,325.8 L485.0,325.5 L485.8,325.6 L486.6,325.5 L487.4,325.7 L488.2,325.5 L489.0,326.1 L489.8,326.3 L490.6,326.7 L492.2,326.3 L493.0,326.4 L493.8,326.3 L494.6,326.6 L495.4,326.8 L496.2,326.9 L497.8,326.7 L498.6,326.9 L499.4,327.1 L500.2,327.2 L501.0,327.5 L502.6,327.6 L503.4,327.4 L504.2,327.3 L505.8,327.4 L506.6,327.3 L508.2,327.4 L509.0,327.9 L510.6,328.0 L511.4,327.7 L513.0,327.7 L513.8,327.9 L515.4,328.2 L516.2,328.1 L517.0,327.7 L517.8,327.8 L518.6,327.7 L519.4,328.1 L520.2,328.2 L521.0,328.3 L522.6,328.0 L524.2,328.3 L525.0,328.2 L525.8,328.4 L526.6,328.3 L527.4,328.4 L529.0,328.6" stroke="#ff0080"/>
<path d="M528.6,323 V330.2" stroke="#8000ff" stroke-width="1.2"/>
</g>
<g clip-path="url(#ci)" fill="none" stroke-width="1.9" stroke-linejoin="round">
<path d="M149.8,104.3 L150.2,104.4 L150.6,104.2 L151.0,104.4 L151.4,104.3 L151.8,104.2 L152.2,104.2 L152.6,104.2 L153.0,104.7 L153.8,104.8 L154.2,104.5 L155.0,104.3 L155.4,104.3 L156.6,104.7 L157.0,104.6 L158.2,104.8 L158.6,104.7 L159.0,104.6 L159.4,104.6 L159.8,104.8 L161.4,104.6 L162.2,104.6 L162.6,104.7 L163.4,104.7 L163.8,104.4 L164.2,104.5 L164.6,104.3 L165.0,104.4 L165.4,104.4 L166.2,104.6 L167.0,104.4 L167.4,104.5 L167.8,104.7 L168.6,104.7 L170.2,104.4 L171.0,104.5 L171.4,104.3 L171.8,104.3 L172.2,104.1 L172.6,104.2 L173.4,104.2 L174.2,104.0 L174.6,104.2 L175.0,104.0 L175.8,104.0 L176.2,104.2 L177.4,103.9 L178.2,104.1 L178.6,104.0 L179.0,104.1 L179.4,103.9 L179.8,104.0 L180.6,104.1 L181.0,103.9 L182.2,104.2 L183.4,104.1 L184.2,104.0 L184.6,104.1 L185.4,104.1 L185.8,104.1 L186.6,104.2 L187.8,104.1 L188.6,104.4 L190.2,104.4 L190.6,104.4 L191.8,104.4 L193.8,104.6 L195.0,104.4 L195.4,104.5 L195.8,104.4 L197.0,104.5 L197.8,104.4 L203.8,104.4 L209.8,104.3 L215.8,104.2 L221.8,104.0 L227.8,103.6 L233.8,102.8 L237.6,101.9 L238.3,100.7 L239.4,96.5 L240.1,89.4 L240.7,83.5 L241.9,79.3 L242.3,78.8 L243.0,79.0 L246.0,84.5 L249.2,89.6 L253.1,94.3 L258.0,97.9 L263.7,100.0 L269.6,101.4 L275.6,102.3 L281.6,102.3 L284.4,101.9 L290.0,103.8 L296.0,104.2 L302.0,104.6 L308.0,105.2 L314.0,105.8 L320.0,106.2 L326.0,106.4 L332.0,106.6 L338.0,106.8 L344.0,106.9 L350.0,106.9 L356.0,107.0 L362.0,107.0 L368.0,107.1 L374.0,107.2 L380.0,107.3 L386.0,107.3 L392.0,107.4 L398.0,107.5 L404.0,107.6 L410.0,107.7 L416.0,107.7 L420.0,107.8" stroke="#00ff00"/>
<path d="M149.8,105.6 L150.2,105.7 L151.0,105.8 L151.8,105.5 L152.2,105.6 L153.8,105.4 L155.0,105.6 L155.8,105.6 L156.2,105.7 L157.0,105.3 L157.4,105.3 L157.8,105.5 L158.2,105.4 L158.6,105.2 L159.0,105.1 L159.8,105.4 L160.2,105.4 L160.6,105.6 L161.0,105.4 L161.4,105.4 L161.8,105.6 L162.6,105.7 L163.0,105.6 L163.4,105.7 L164.6,105.2 L165.0,105.3 L165.8,105.7 L166.6,105.7 L167.4,105.3 L167.8,105.2 L168.6,105.4 L169.8,104.9 L170.2,105.1 L170.6,105.0 L171.0,105.1 L171.4,105.1 L172.2,105.3 L173.0,104.9 L173.4,104.8 L174.2,105.3 L176.2,104.8 L177.0,104.8 L177.4,105.0 L177.8,104.8 L178.6,104.8 L179.0,104.8 L179.4,104.8 L179.8,104.6 L180.2,104.6 L181.4,105.0 L181.8,104.8 L183.0,104.8 L183.8,104.8 L184.2,104.9 L185.4,105.0 L186.6,104.9 L187.4,105.1 L189.0,105.1 L189.4,105.1 L190.6,105.1 L196.6,105.3 L202.6,105.2 L208.6,105.1 L214.6,105.0 L220.6,104.6 L226.6,103.7 L232.6,102.4 L237.5,101.5 L237.9,101.0 L239.3,96.0 L240.0,89.4 L240.6,83.2 L241.8,78.8 L242.2,78.2 L242.8,78.2 L246.3,83.2 L249.9,88.0 L253.0,90.6 L254.3,90.6 L259.5,93.8 L265.4,95.1 L271.3,96.5 L277.3,97.4 L283.2,96.2 L284.3,95.8 L285.5,97.1 L287.9,99.9 L290.8,101.0 L296.8,102.1 L302.8,102.7 L308.8,103.8 L314.8,104.6 L320.8,105.2 L326.8,105.7 L332.8,106.1 L338.8,106.4 L344.8,106.6 L350.8,106.7 L356.8,106.8 L362.8,106.9 L368.8,107.0 L374.8,107.1 L380.8,107.2 L386.8,107.3 L392.8,107.4 L398.8,107.5 L404.8,107.6 L410.8,107.7 L416.8,107.7 L420.0,107.8" stroke="#ff00ff"/>
<path d="M149.8,103.7 L150.2,103.6 L150.6,103.5 L151.4,103.4 L152.2,103.5 L153.0,103.8 L153.8,103.9 L154.2,103.6 L154.6,103.6 L155.4,103.6 L156.2,103.3 L157.4,103.4 L157.8,103.5 L158.2,103.4 L158.6,103.5 L159.0,103.4 L159.4,103.5 L160.2,103.6 L160.6,103.8 L161.0,103.6 L162.2,103.7 L162.6,103.5 L163.4,103.6 L163.8,103.8 L165.0,103.7 L165.4,103.5 L166.6,103.6 L167.0,103.5 L167.8,103.7 L168.2,103.8 L169.0,103.2 L169.4,103.1 L169.8,103.1 L170.2,103.5 L171.0,103.3 L171.4,103.4 L171.8,103.6 L172.2,103.7 L173.8,103.4 L174.2,103.5 L174.6,103.4 L175.0,103.4 L175.4,103.2 L175.8,103.2 L177.0,103.5 L177.4,103.2 L177.8,103.2 L178.2,103.1 L179.0,103.2 L179.8,103.4 L180.2,103.5 L180.6,103.3 L181.0,103.4 L181.4,103.3 L181.8,103.4 L182.6,103.3 L183.8,103.4 L184.6,103.2 L185.4,103.4 L187.0,103.3 L188.2,103.4 L189.0,103.2 L189.4,103.2 L191.4,103.5 L191.8,103.4 L193.0,103.5 L195.8,103.6 L197.0,103.5 L197.8,103.5 L203.8,103.5 L209.8,103.5 L215.8,103.5 L221.8,102.5 L227.8,101.0 L233.8,99.0 L237.6,97.4 L238.7,95.1 L239.4,92.5 L240.1,86.2 L240.7,81.0 L241.9,77.2 L242.3,76.7 L243.4,77.2 L247.4,81.8 L252.2,84.2 L253.5,84.0 L254.2,83.6 L259.7,86.1 L265.6,87.2 L271.4,88.9 L277.3,90.1 L283.2,88.7 L284.3,88.3 L285.3,89.3 L286.3,92.4 L290.0,95.1 L295.6,97.3 L301.2,99.5 L307.2,101.2 L313.2,102.5 L319.2,103.6 L325.2,104.4 L331.2,105.1 L337.2,105.7 L343.2,106.0 L349.2,106.3 L355.2,106.6 L361.2,106.7 L367.2,106.9 L373.2,107.0 L379.2,107.1 L385.2,107.2 L391.2,107.3 L397.2,107.4 L403.2,107.5 L409.2,107.6 L415.2,107.7 L420.0,107.8" stroke="#808000"/>
<path d="M149.8,106.5 L150.2,106.6 L151.0,106.5 L151.8,106.2 L152.6,106.6 L153.0,106.6 L154.6,106.2 L155.0,106.2 L155.4,106.6 L156.2,106.9 L156.6,106.8 L157.0,106.7 L157.4,106.5 L159.0,106.4 L159.4,106.5 L159.8,106.8 L160.2,106.9 L161.4,106.3 L161.8,106.5 L162.6,106.4 L163.0,106.1 L164.2,106.4 L165.0,106.3 L165.4,106.4 L166.2,106.4 L166.6,106.3 L167.4,106.5 L169.4,106.4 L169.8,106.3 L170.2,106.1 L172.2,105.7 L173.0,105.6 L173.4,105.7 L175.0,105.9 L175.4,105.7 L175.8,105.4 L176.2,105.3 L177.8,105.1 L178.2,105.2 L179.0,105.6 L179.4,105.5 L180.2,105.2 L181.0,105.2 L182.2,105.4 L182.6,105.4 L183.0,105.5 L183.4,105.5 L183.8,105.5 L184.2,105.5 L185.0,105.5 L186.2,105.4 L187.0,105.6 L188.2,105.5 L190.2,105.8 L191.0,105.7 L191.4,105.8 L191.8,105.8 L192.2,105.8 L194.6,105.8 L200.6,105.8 L206.6,105.7 L212.6,105.6 L218.6,105.3 L224.6,104.1 L230.6,101.9 L233.4,101.3 L237.6,100.5 L238.5,99.2 L239.3,97.0 L240.1,90.5 L240.7,85.4 L241.9,81.9 L242.3,81.5 L243.7,82.2 L248.2,86.2 L253.0,87.6 L254.2,87.0 L259.6,89.7 L265.5,91.0 L271.4,92.4 L277.4,93.3 L283.3,91.8 L284.3,91.4 L285.3,92.4 L287.0,96.1 L290.0,97.9 L296.0,99.8 L302.0,101.2 L308.0,102.5 L314.0,103.6 L320.0,104.4 L326.0,105.1 L332.0,105.6 L338.0,106.0 L344.0,106.3 L350.0,106.5 L356.0,106.7 L362.0,106.8 L368.0,107.0 L374.0,107.1 L380.0,107.2 L386.0,107.3 L392.0,107.4 L398.0,107.5 L404.0,107.6 L410.0,107.6 L416.0,107.7 L420.0,107.8" stroke="#800080"/>
<path d="M149.8,100.3 L150.2,100.2 L150.6,100.1 L151.4,100.4 L151.8,100.5 L152.2,100.4 L152.6,100.3 L153.0,100.3 L153.4,100.2 L154.2,100.5 L154.6,100.4 L155.4,100.3 L155.8,100.6 L156.2,100.7 L156.6,100.6 L157.4,100.6 L158.2,100.5 L158.6,100.3 L159.4,100.1 L160.2,100.3 L160.6,100.6 L161.0,100.5 L161.4,100.8 L161.8,100.7 L162.2,101.0 L162.6,101.0 L163.0,101.1 L163.4,100.8 L163.8,100.8 L164.2,100.6 L165.0,100.7 L165.8,101.2 L166.2,101.3 L167.0,100.7 L167.4,100.7 L168.2,101.0 L169.0,100.8 L169.8,100.8 L170.2,101.0 L170.6,100.9 L171.4,101.0 L171.8,101.2 L172.2,101.3 L173.0,100.9 L173.4,100.7 L173.8,100.8 L174.2,100.7 L175.0,100.9 L175.4,101.1 L175.8,101.1 L176.2,101.1 L177.0,101.1 L177.4,101.1 L177.8,101.0 L178.2,101.1 L178.6,100.8 L179.0,101.0 L179.8,101.0 L180.2,100.8 L180.6,100.8 L181.4,101.2 L181.8,101.1 L182.2,100.9 L183.0,101.1 L183.4,101.1 L183.8,101.0 L184.2,101.1 L184.6,101.3 L186.2,101.2 L187.0,101.2 L187.4,101.3 L188.6,101.3 L190.6,101.4 L191.0,101.5 L191.8,101.6 L193.0,101.5 L194.2,101.6 L194.6,101.6 L197.0,101.7 L203.0,101.9 L209.0,102.1 L215.0,102.2 L221.0,101.3 L227.0,99.6 L232.6,97.2 L235.4,96.1 L237.7,94.3 L239.3,90.0 L240.1,84.0 L240.7,79.4 L241.9,75.9 L242.3,75.4 L247.9,77.8 L252.5,79.2 L253.4,78.8 L254.1,77.8 L254.3,77.8 L257.1,80.7 L262.8,82.8 L268.6,84.6 L274.3,86.6 L280.3,86.5 L284.3,85.2 L285.3,86.2 L286.9,89.9 L290.0,92.2 L295.6,94.9 L301.2,97.5 L307.2,99.5 L313.2,101.2 L319.2,102.5 L325.2,103.6 L331.2,104.5 L337.2,105.2 L343.2,105.7 L349.2,106.1 L355.2,106.4 L361.2,106.6 L367.2,106.8 L373.2,106.9 L379.2,107.1 L385.2,107.2 L391.2,107.3 L397.2,107.4 L403.2,107.5 L409.2,107.6 L415.2,107.7 L420.0,107.7" stroke="#008000"/>
<path d="M149.8,99.7 L150.2,99.7 L151.0,100.0 L151.8,99.7 L152.2,99.7 L152.6,99.9 L153.4,100.0 L153.8,99.8 L154.2,99.9 L154.6,99.7 L155.4,100.0 L155.8,100.3 L156.2,100.2 L156.6,99.7 L157.0,99.6 L157.4,99.8 L157.8,100.1 L158.2,100.1 L158.6,99.9 L159.0,99.9 L159.4,99.7 L160.2,99.8 L160.6,100.0 L161.0,100.2 L161.4,100.2 L162.2,99.9 L163.0,100.0 L163.4,100.0 L163.8,100.1 L164.2,100.0 L164.6,100.3 L165.0,100.1 L165.4,100.2 L165.8,100.0 L166.2,100.2 L166.6,100.0 L167.0,100.1 L167.4,99.9 L168.6,100.0 L169.0,100.1 L170.2,100.1 L171.4,100.5 L171.8,100.5 L172.2,100.6 L173.4,100.3 L174.6,100.4 L175.0,100.4 L175.8,100.5 L176.2,100.3 L176.6,100.4 L177.0,100.3 L177.4,100.4 L177.8,100.3 L179.4,100.5 L179.8,100.5 L181.0,100.6 L181.8,100.4 L182.6,100.5 L183.0,100.6 L183.4,100.5 L183.8,100.7 L184.6,100.6 L185.0,100.5 L186.2,100.6 L186.6,100.6 L187.8,100.8 L189.4,100.8 L190.2,100.8 L190.6,100.9 L193.0,100.9 L195.0,101.1 L197.0,101.0 L203.0,101.3 L209.0,101.5 L215.0,101.6 L220.2,100.9 L226.2,99.1 L231.8,96.6 L235.4,94.8 L237.6,92.9 L239.3,88.0 L240.1,81.9 L240.8,77.0 L242.0,73.6 L242.3,73.3 L247.7,76.0 L252.5,77.4 L253.3,77.0 L254.1,75.4 L254.2,75.4 L254.5,75.7 L256.3,78.2 L261.9,80.5 L267.7,82.3 L273.3,84.5 L279.3,84.9 L284.3,82.9 L284.8,83.2 L285.4,84.2 L286.3,87.6 L290.0,90.8 L295.6,93.6 L301.2,96.1 L307.2,98.4 L313.2,100.3 L319.2,101.8 L325.2,103.0 L331.2,104.1 L337.2,104.9 L343.2,105.5 L349.2,105.9 L355.2,106.3 L361.2,106.5 L367.2,106.7 L373.2,106.9 L379.2,107.0 L385.2,107.2 L391.2,107.3 L397.2,107.4 L403.2,107.5 L409.2,107.6 L415.2,107.7 L420.0,107.7" stroke="#008080"/>
<path d="M149.8,98.3 L150.2,98.2 L150.6,97.8 L151.0,97.7 L151.4,97.9 L151.8,98.3 L152.2,98.3 L152.6,98.4 L153.0,98.2 L153.4,98.3 L153.8,98.2 L154.2,98.2 L154.6,98.1 L155.0,98.2 L155.8,98.1 L157.0,98.3 L157.4,98.2 L158.2,98.5 L158.6,98.5 L159.0,98.7 L159.4,98.4 L160.6,98.3 L161.0,98.4 L161.4,98.4 L163.0,99.1 L163.8,98.8 L164.2,98.9 L165.0,98.8 L165.8,99.0 L166.2,99.0 L167.0,98.5 L167.4,98.5 L167.8,98.6 L168.2,98.9 L169.8,99.1 L170.6,98.9 L171.4,98.9 L171.8,99.0 L173.4,99.2 L173.8,99.2 L174.2,98.9 L174.6,98.9 L175.0,98.9 L175.4,99.1 L176.2,99.3 L177.0,99.3 L178.2,98.9 L179.4,99.3 L180.2,99.5 L181.0,99.3 L182.2,99.2 L182.6,99.3 L183.0,99.5 L183.8,99.4 L184.2,99.2 L185.0,99.2 L186.2,99.6 L186.6,99.6 L187.8,99.6 L188.2,99.7 L188.6,99.7 L189.0,99.6 L194.6,100.0 L195.4,100.1 L197.0,100.0 L199.4,100.2 L205.4,100.4 L211.4,100.6 L217.0,100.5 L223.0,99.1 L227.0,97.7 L232.6,94.7 L235.4,93.3 L237.6,91.4 L239.3,86.0 L240.1,79.9 L240.8,75.0 L242.0,71.6 L242.3,71.3 L248.1,73.1 L252.4,74.7 L253.3,74.0 L254.1,71.4 L254.2,71.3 L254.4,71.5 L256.0,74.1 L261.6,76.4 L267.2,78.8 L272.7,81.2 L278.7,82.0 L284.3,80.1 L284.8,80.4 L285.4,81.4 L286.3,84.9 L290.0,88.6 L295.6,91.8 L301.2,94.7 L306.8,97.1 L312.8,99.3 L318.8,101.0 L324.8,102.3 L330.8,103.6 L336.8,104.5 L342.8,105.2 L348.8,105.7 L354.8,106.2 L360.8,106.5 L366.8,106.7 L372.8,106.8 L378.8,107.0 L384.8,107.1 L390.8,107.3 L396.8,107.4 L402.8,107.5 L408.8,107.6 L414.8,107.7 L420.0,107.7" stroke="#ff8000"/>
<path d="M149.8,101.7 L150.6,101.6 L151.0,101.5 L151.4,101.6 L151.8,101.5 L152.2,101.6 L153.0,101.5 L153.4,101.5 L153.8,101.4 L154.2,101.5 L154.6,101.4 L155.0,101.6 L155.4,101.6 L156.2,102.0 L156.6,102.0 L157.8,101.8 L158.2,101.8 L158.6,102.0 L159.0,101.9 L159.8,102.0 L160.2,102.2 L160.6,102.0 L161.4,101.7 L161.8,101.9 L162.2,101.9 L162.6,101.9 L163.0,101.7 L163.8,101.8 L164.6,101.7 L165.0,101.5 L165.4,101.8 L166.2,101.9 L167.4,101.9 L167.8,101.8 L168.6,101.9 L169.4,101.6 L170.2,101.5 L171.4,101.8 L172.2,101.8 L172.6,101.9 L173.0,101.7 L173.4,101.8 L174.2,101.8 L176.2,101.7 L177.0,101.5 L177.4,101.5 L177.8,101.7 L178.2,101.8 L179.0,101.7 L179.4,101.6 L180.2,101.5 L181.0,101.7 L181.4,101.7 L181.8,101.5 L182.2,101.5 L183.0,101.7 L184.2,101.6 L184.6,101.7 L185.0,101.7 L185.4,101.8 L185.8,101.7 L186.2,101.8 L186.6,101.8 L187.0,102.0 L188.2,101.8 L188.6,101.8 L189.0,101.9 L189.4,101.8 L189.8,102.0 L190.2,102.0 L190.6,102.1 L191.8,102.1 L192.6,102.3 L195.0,102.2 L197.0,102.3 L203.0,102.3 L209.0,102.4 L215.0,102.4 L217.0,102.2 L221.4,100.4 L227.0,97.3 L232.2,93.6 L235.4,91.7 L237.5,89.5 L239.0,83.6 L239.9,77.5 L240.7,71.4 L241.9,67.9 L242.3,67.5 L247.9,69.8 L252.1,72.4 L252.6,72.3 L253.3,71.5 L254.1,66.7 L254.2,66.5 L254.4,66.7 L255.2,69.0 L260.3,72.2 L265.6,75.2 L270.9,78.1 L276.6,80.1 L282.5,78.5 L284.2,77.4 L284.6,77.5 L285.3,78.5 L286.3,82.9 L290.0,87.2 L295.2,90.5 L300.4,93.5 L306.0,96.2 L311.6,98.4 L317.6,100.3 L323.6,101.8 L329.6,103.2 L335.6,104.2 L336.0,104.2 L336.4,104.1 L336.8,103.8 L337.6,102.7 L338.0,102.5 L338.4,102.8 L339.2,104.1 L339.6,104.5 L340.0,104.7 L340.4,104.8 L340.8,104.7 L341.2,104.4 L342.0,103.4 L342.4,103.1 L342.8,103.2 L343.6,104.4 L344.0,104.8 L344.4,104.9 L344.8,104.7 L345.6,103.6 L346.0,103.4 L346.4,103.7 L347.2,104.9 L347.6,105.3 L348.0,105.5 L348.4,105.6 L348.8,105.5 L349.2,105.2 L350.0,104.1 L350.4,103.8 L350.8,104.0 L351.6,105.1 L352.0,105.5 L352.4,105.6 L352.8,105.3 L353.6,104.3 L354.0,104.0 L354.4,104.3 L355.2,105.5 L355.6,105.9 L356.0,106.0 L356.4,105.9 L356.8,105.6 L357.6,104.5 L358.0,104.3 L358.4,104.6 L359.2,105.7 L359.6,106.1 L360.0,106.3 L366.0,106.6 L372.0,106.8 L378.0,107.0 L380.8,107.0 L381.2,106.9 L381.6,106.6 L382.8,105.1 L383.2,105.1 L383.6,105.6 L384.4,106.7 L384.8,107.0 L385.2,107.1 L386.0,107.1 L386.4,106.9 L386.8,106.5 L387.6,105.4 L388.0,105.2 L388.4,105.4 L389.2,106.6 L389.6,107.0 L390.0,107.1 L390.4,107.0 L390.8,106.6 L391.6,105.5 L392.0,105.3 L392.4,105.5 L393.2,106.7 L393.6,107.1 L394.0,107.2 L394.8,107.3 L395.2,107.2 L395.6,106.9 L396.8,105.4 L397.2,105.4 L397.6,105.9 L398.0,106.5 L398.4,107.0 L398.8,107.2 L399.2,107.2 L399.6,107.0 L400.0,106.5 L400.4,105.9 L400.8,105.5 L401.2,105.5 L401.6,106.0 L402.4,107.1 L402.8,107.3 L405.6,107.5 L406.0,107.4 L406.4,107.3 L406.8,106.9 L407.6,105.8 L408.0,105.6 L408.4,105.8 L409.2,107.0 L409.6,107.3 L410.0,107.5 L410.8,107.6 L411.2,107.5 L411.6,107.2 L412.8,105.7 L413.2,105.7 L413.6,106.2 L414.4,107.3 L414.8,107.5 L420.0,107.7" stroke="#8000ff"/>
<path d="M149.8,103.9 L151.0,103.8 L151.8,104.2 L152.2,104.4 L152.6,104.4 L153.4,104.2 L153.8,103.9 L154.6,104.1 L155.0,104.1 L155.4,104.3 L156.2,104.4 L156.6,103.9 L157.0,103.9 L157.4,104.1 L157.8,104.1 L158.6,104.1 L159.4,104.3 L159.8,104.2 L160.2,104.2 L160.6,104.0 L161.0,104.1 L161.4,104.2 L161.8,104.5 L162.2,104.4 L162.6,104.4 L163.0,104.2 L163.4,104.3 L164.6,104.0 L165.0,104.0 L165.4,104.2 L165.8,104.3 L166.2,104.5 L167.4,103.9 L167.8,103.9 L168.2,104.3 L168.6,104.2 L169.0,104.3 L169.4,104.0 L170.6,104.0 L171.0,104.2 L171.4,104.1 L171.8,104.2 L172.2,104.0 L173.8,103.8 L174.2,103.6 L175.0,103.6 L175.4,103.4 L175.8,103.4 L176.2,103.4 L176.6,103.5 L177.0,103.4 L177.4,103.4 L177.8,103.3 L178.2,103.5 L178.6,103.5 L179.0,103.6 L179.8,103.5 L180.2,103.3 L180.6,103.2 L181.4,103.4 L184.6,103.4 L185.4,103.5 L186.2,103.5 L187.0,103.7 L187.8,103.7 L190.6,103.8 L191.0,103.9 L192.6,103.9 L193.4,104.0 L199.4,103.9 L205.4,103.8 L211.4,103.5 L215.8,103.1 L217.8,102.4 L223.0,99.0 L227.8,95.2 L232.2,90.8 L235.0,88.1 L237.5,84.0 L238.7,77.9 L239.6,71.9 L240.4,65.8 L240.8,64.0 L242.0,62.0 L247.8,63.9 L252.0,67.0 L252.9,66.9 L253.3,66.6 L254.1,63.9 L254.2,63.8 L258.8,67.7 L264.2,70.5 L269.6,73.4 L274.9,76.4 L280.9,75.6 L284.2,72.0 L284.4,72.0 L285.5,74.0 L287.3,80.1 L290.0,84.7 L294.8,88.8 L299.2,91.8 L304.8,94.4 L310.4,97.0 L316.4,99.1 L318.0,99.6 L318.8,99.6 L319.6,99.5 L320.0,99.5 L320.4,99.7 L321.6,100.5 L324.8,101.4 L325.6,101.5 L326.8,101.3 L327.2,101.4 L328.4,102.2 L329.2,102.6 L330.8,102.9 L331.6,102.9 L332.8,102.7 L333.2,102.7 L334.4,103.5 L340.4,104.6 L342.0,104.7 L342.8,104.6 L343.6,104.3 L344.0,104.3 L344.4,104.4 L345.6,105.1 L349.6,105.6 L350.4,105.5 L351.6,105.1 L352.0,105.1 L352.4,105.2 L353.6,105.8 L359.6,106.3 L362.8,106.4 L363.6,106.3 L364.8,105.8 L365.2,105.8 L366.4,106.4 L372.4,106.8 L375.2,106.8 L376.8,106.2 L377.2,106.2 L378.4,106.8 L384.4,107.1 L390.4,107.2 L393.2,107.2 L394.8,106.6 L395.2,106.6 L396.4,107.2 L401.6,107.4 L402.4,107.3 L403.6,106.8 L404.0,106.8 L404.4,106.9 L405.6,107.4 L411.6,107.6 L417.6,107.7 L420.0,107.7" stroke="#ff0080"/>
</g>
<path d="M85.9,7.75 V334.2 H529.3 M79.2,327.8 H85.9 M79.2,200.1 H85.9 M79.2,72.4 H85.9 M82.4,263.9 H85.9 M82.4,136.2 H85.9 M82.4,8.5 H85.9 M170.0,334.2 V340.7 M275.6,334.2 V340.7 M381.2,334.2 V340.7 M486.8,334.2 V340.7 M117.2,334.2 V338 M222.8,334.2 V338 M328.4,334.2 V338 M434.0,334.2 V338" fill="none" stroke="#000" stroke-width="1.5"/>
<path d="M150.3,11.9 V114.1 H420.5 M147.3,108.5 H150.3 M147.3,60.5 H150.3 M147.3,12.4 H150.3 M148.7,84.5 H150.3 M148.7,36.4 H150.3 M180.2,114.1 V117 M240.2,114.1 V117 M300.2,114.1 V117 M360.2,114.1 V117 M420.2,114.1 V117 M150.2,114.1 V115.7 M210.2,114.1 V115.7 M270.2,114.1 V115.7 M330.2,114.1 V115.7 M390.2,114.1 V115.7" fill="none" stroke="#000" stroke-width="1.1"/>
<text x="63.1" y="333.8" font-size="20.5" textLength="12.1" lengthAdjust="spacingAndGlyphs">0</text>
<text x="51.0" y="206.1" font-size="20.5" textLength="24.2" lengthAdjust="spacingAndGlyphs">20</text>
<text x="51.0" y="78.4" font-size="20.5" textLength="24.2" lengthAdjust="spacingAndGlyphs">40</text>
<text x="170.0" y="360.3" font-size="20" text-anchor="middle">1.0</text>
<text x="275.6" y="360.3" font-size="20" text-anchor="middle">1.5</text>
<text x="381.2" y="360.3" font-size="20" text-anchor="middle">2.0</text>
<text x="486.8" y="360.3" font-size="20" text-anchor="middle">2.5</text>
<text x="145.2" y="112.6" font-size="15.6" text-anchor="end">0</text>
<text x="145.2" y="64.5" font-size="15.6" text-anchor="end">10</text>
<text x="145.2" y="16.5" font-size="15.6" text-anchor="end">20</text>
<text x="180.1" y="129.8" font-size="15.3" text-anchor="middle">3</text>
<text x="240.1" y="129.8" font-size="15.3" text-anchor="middle">4</text>
<text x="300.1" y="129.8" font-size="15.3" text-anchor="middle">5</text>
<text x="360.1" y="129.8" font-size="15.3" text-anchor="middle">6</text>
<text x="420.1" y="129.8" font-size="15.3" text-anchor="middle">7</text>
<text x="306" y="396" font-size="20.9" text-anchor="middle">Wavelength (<tspan font-family="'DejaVu Sans', 'Liberation Sans', sans-serif" font-size="18">μ</tspan>m)</text>
<text transform="translate(20.8,212.2) rotate(-90)" font-size="20" letter-spacing="0.1">α (cm<tspan font-size="13" dy="-9.5" dx="1.3">-1</tspan><tspan dy="9.5" dx="1.5">)</tspan></text>
<path d="M475.3,72.3 H517" stroke="#00ff00" stroke-width="2.2" fill="none"/>
<text x="520.3" y="78.5" font-size="16.8">0.3</text>
<path d="M475.3,93.8 H517" stroke="#ff00ff" stroke-width="2.2" fill="none"/>
<text x="520.3" y="100.0" font-size="16.8">0.6</text>
<path d="M475.3,115.4 H517" stroke="#808000" stroke-width="2.2" fill="none"/>
<text x="520.3" y="121.6" font-size="16.8">0.8</text>
<path d="M475.3,136.9 H517" stroke="#800080" stroke-width="2.2" fill="none"/>
<text x="520.3" y="143.1" font-size="16.8">1.0</text>
<path d="M475.3,158.5 H517" stroke="#008000" stroke-width="2.2" fill="none"/>
<text x="520.3" y="164.7" font-size="16.8">1.2</text>
<path d="M475.3,180.1 H517" stroke="#008080" stroke-width="2.2" fill="none"/>
<text x="520.3" y="186.2" font-size="16.8">1.4</text>
<path d="M475.3,201.6 H517" stroke="#ff8000" stroke-width="2.2" fill="none"/>
<text x="520.3" y="207.8" font-size="16.8">1.6</text>
<path d="M475.3,223.1 H517" stroke="#8000ff" stroke-width="2.2" fill="none"/>
<text x="520.3" y="229.3" font-size="16.8">1.8</text>
<path d="M475.3,244.7 H517" stroke="#ff0080" stroke-width="2.2" fill="none"/>
<text x="520.3" y="250.9" font-size="16.8">2.0</text>
<text x="200.5" y="35.1" font-size="16.8" textLength="30.6" lengthAdjust="spacingAndGlyphs">S-H</text>
<path d="M226.4,38.4 L237.5,57" stroke="#000" stroke-width="1.2" fill="none"/><path d="M239.6,60.4 L235.1,56.7 L238.4,54.7 Z" fill="#000"/>
<text x="245.2" y="49.5" font-size="16.9"><tspan font-size="10.8" dy="-7.3">3</tspan><tspan dy="7.3" font-size="1">&#8203;</tspan><tspan>H</tspan><tspan font-size="10.8" dy="6.6">4</tspan><tspan dy="-6.6" font-size="1">&#8203;</tspan><tspan>-</tspan><tspan font-size="10.8" dy="-7.3">3</tspan><tspan dy="7.3" font-size="1">&#8203;</tspan><tspan>H</tspan><tspan font-size="10.8" dy="6.6">5</tspan><tspan dy="-6.6" font-size="1">&#8203;</tspan></text>
<text x="262.8" y="150.8" font-size="16.9"><tspan font-size="10.8" dy="-7.3">3</tspan><tspan dy="7.3" font-size="1">&#8203;</tspan><tspan>H</tspan><tspan font-size="10.8" dy="6.6">4</tspan><tspan dy="-6.6" font-size="1">&#8203;</tspan><tspan>-</tspan><tspan font-size="10.8" dy="-7.3">3</tspan><tspan dy="7.3" font-size="1">&#8203;</tspan><tspan>F</tspan><tspan font-size="10.8" dy="6.6">3</tspan><tspan dy="-6.6" font-size="1">&#8203;</tspan></text>
<text x="231.9" y="220.5" font-size="16.9"><tspan font-size="10.8" dy="-7.3">3</tspan><tspan dy="7.3" font-size="1">&#8203;</tspan><tspan>H</tspan><tspan font-size="10.8" dy="6.6">4</tspan><tspan dy="-6.6" font-size="1">&#8203;</tspan><tspan>-</tspan><tspan font-size="10.8" dy="-7.3">3</tspan><tspan dy="7.3" font-size="1">&#8203;</tspan><tspan>F</tspan><tspan font-size="10.8" dy="6.6">4</tspan><tspan dy="-6.6" font-size="1">&#8203;</tspan></text>
<text x="354.5" y="157.7" font-size="16.9"><tspan font-size="10.8" dy="-7.3">3</tspan><tspan dy="7.3" font-size="1">&#8203;</tspan><tspan>H</tspan><tspan font-size="10.8" dy="6.6">4</tspan><tspan dy="-6.6" font-size="1">&#8203;</tspan><tspan>-</tspan><tspan font-size="10.8" dy="-7.3">3</tspan><tspan dy="7.3" font-size="1">&#8203;</tspan><tspan>F</tspan><tspan font-size="10.8" dy="6.6">2</tspan><tspan dy="-6.6" font-size="1">&#8203;</tspan></text>
<text x="147.8" y="288.5" font-size="16.9"><tspan font-size="10.8" dy="-7.3">3</tspan><tspan dy="7.3" font-size="1">&#8203;</tspan><tspan>H</tspan><tspan font-size="10.8" dy="6.6">4</tspan><tspan dy="-6.6" font-size="1">&#8203;</tspan><tspan>-</tspan><tspan font-size="10.8" dy="-7.3">1</tspan><tspan dy="7.3" font-size="1">&#8203;</tspan><tspan>G</tspan><tspan font-size="10.8" dy="6.6">4</tspan><tspan dy="-6.6" font-size="1">&#8203;</tspan></text>
<text x="432.0" y="293.3" font-size="16.9"><tspan font-size="10.8" dy="-7.3">3</tspan><tspan dy="7.3" font-size="1">&#8203;</tspan><tspan>H</tspan><tspan font-size="10.8" dy="6.6">4</tspan><tspan dy="-6.6" font-size="1">&#8203;</tspan><tspan>-</tspan><tspan font-size="10.8" dy="-7.3">3</tspan><tspan dy="7.3" font-size="1">&#8203;</tspan><tspan>H</tspan><tspan font-size="10.8" dy="6.6">6</tspan><tspan dy="-6.6" font-size="1">&#8203;</tspan></text>
</svg>
</body></html>
